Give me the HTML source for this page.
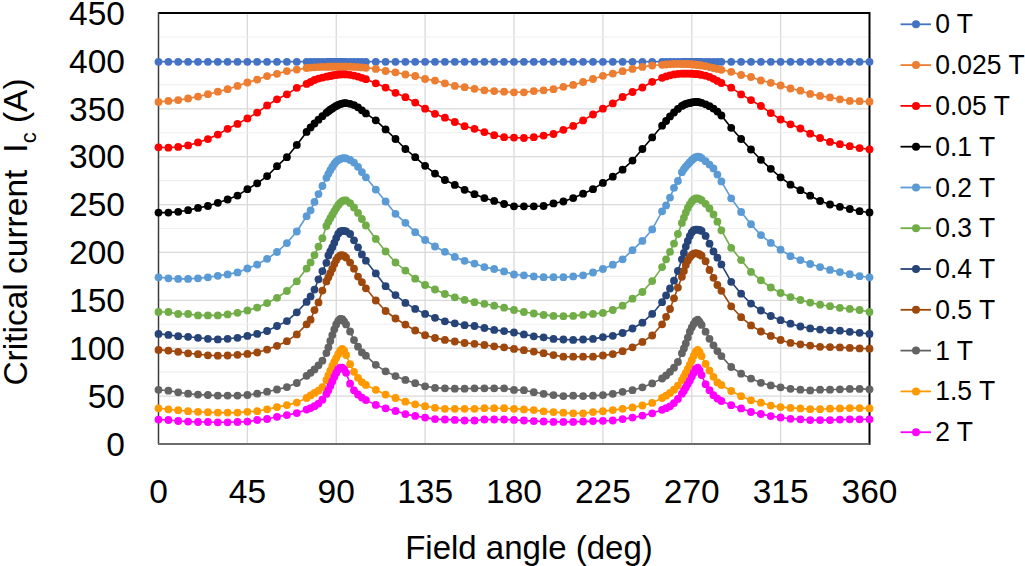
<!DOCTYPE html>
<html><head><meta charset="utf-8"><style>
html,body{margin:0;padding:0;background:#fff;width:1025px;height:566px;overflow:hidden}
svg{position:absolute;left:0;top:0;display:block}
text{font-family:"Liberation Sans",sans-serif;fill:#000}
</style></head><body>
<svg width="1025" height="566" viewBox="0 0 1025 566">
<rect x="0" y="0" width="1025" height="566" fill="#fff"/>
<line x1="247.38" y1="13.0" x2="247.38" y2="444.0" stroke="#d9d9d9" stroke-width="1.3"/>
<line x1="336.25" y1="13.0" x2="336.25" y2="444.0" stroke="#d9d9d9" stroke-width="1.3"/>
<line x1="425.12" y1="13.0" x2="425.12" y2="444.0" stroke="#d9d9d9" stroke-width="1.3"/>
<line x1="514.00" y1="13.0" x2="514.00" y2="444.0" stroke="#d9d9d9" stroke-width="1.3"/>
<line x1="602.88" y1="13.0" x2="602.88" y2="444.0" stroke="#d9d9d9" stroke-width="1.3"/>
<line x1="691.75" y1="13.0" x2="691.75" y2="444.0" stroke="#d9d9d9" stroke-width="1.3"/>
<line x1="780.62" y1="13.0" x2="780.62" y2="444.0" stroke="#d9d9d9" stroke-width="1.3"/>
<line x1="158.5" y1="420.06" x2="869.5" y2="420.06" stroke="#efefef" stroke-width="1.1"/>
<line x1="158.5" y1="396.11" x2="869.5" y2="396.11" stroke="#d9d9d9" stroke-width="1.3"/>
<line x1="158.5" y1="372.17" x2="869.5" y2="372.17" stroke="#efefef" stroke-width="1.1"/>
<line x1="158.5" y1="348.22" x2="869.5" y2="348.22" stroke="#d9d9d9" stroke-width="1.3"/>
<line x1="158.5" y1="324.28" x2="869.5" y2="324.28" stroke="#efefef" stroke-width="1.1"/>
<line x1="158.5" y1="300.33" x2="869.5" y2="300.33" stroke="#d9d9d9" stroke-width="1.3"/>
<line x1="158.5" y1="276.39" x2="869.5" y2="276.39" stroke="#efefef" stroke-width="1.1"/>
<line x1="158.5" y1="252.44" x2="869.5" y2="252.44" stroke="#d9d9d9" stroke-width="1.3"/>
<line x1="158.5" y1="228.50" x2="869.5" y2="228.50" stroke="#efefef" stroke-width="1.1"/>
<line x1="158.5" y1="204.56" x2="869.5" y2="204.56" stroke="#d9d9d9" stroke-width="1.3"/>
<line x1="158.5" y1="180.61" x2="869.5" y2="180.61" stroke="#efefef" stroke-width="1.1"/>
<line x1="158.5" y1="156.67" x2="869.5" y2="156.67" stroke="#d9d9d9" stroke-width="1.3"/>
<line x1="158.5" y1="132.72" x2="869.5" y2="132.72" stroke="#efefef" stroke-width="1.1"/>
<line x1="158.5" y1="108.78" x2="869.5" y2="108.78" stroke="#d9d9d9" stroke-width="1.3"/>
<line x1="158.5" y1="84.83" x2="869.5" y2="84.83" stroke="#efefef" stroke-width="1.1"/>
<line x1="158.5" y1="60.89" x2="869.5" y2="60.89" stroke="#d9d9d9" stroke-width="1.3"/>
<line x1="158.5" y1="36.94" x2="869.5" y2="36.94" stroke="#efefef" stroke-width="1.1"/>
<line x1="158.5" y1="13.0" x2="869.5" y2="13.0" stroke="#000" stroke-width="2"/>
<line x1="869.5" y1="12.0" x2="869.5" y2="445.0" stroke="#000" stroke-width="2"/>
<line x1="158.5" y1="12.0" x2="158.5" y2="444.0" stroke="#3c3c3c" stroke-width="1.5"/>
<line x1="158.0" y1="444.0" x2="869.5" y2="444.0" stroke="#6b6b6b" stroke-width="2"/>
<polyline points="158.5,61.8 168.4,61.8 178.2,61.8 188.1,61.8 198.0,61.8 207.9,61.8 217.8,61.8 227.6,61.8 237.5,61.8 247.4,61.8 257.2,61.8 267.1,61.8 277.0,61.8 286.9,61.8 296.8,61.8 306.6,61.8 310.6,61.8 314.5,61.8 318.5,61.8 322.4,61.8 326.4,61.8 328.4,61.8 330.3,61.8 332.3,61.8 334.3,61.8 336.2,61.8 338.2,61.8 340.2,61.8 342.2,61.8 344.1,61.8 346.1,61.8 350.1,61.8 354.0,61.8 358.0,61.8 361.9,61.8 365.9,61.8 375.8,61.8 385.6,61.8 395.5,61.8 405.4,61.8 415.2,61.8 425.1,61.8 435.0,61.8 444.9,61.8 454.8,61.8 464.6,61.8 474.5,61.8 484.4,61.8 494.2,61.8 504.1,61.8 514.0,61.8 523.9,61.8 533.8,61.8 543.6,61.8 553.5,61.8 563.4,61.8 573.2,61.8 583.1,61.8 593.0,61.8 602.9,61.8 612.8,61.8 622.6,61.8 632.5,61.8 642.4,61.8 652.2,61.8 662.1,61.8 666.1,61.8 670.0,61.8 674.0,61.8 677.9,61.8 681.9,61.8 683.9,61.8 685.8,61.8 687.8,61.8 689.8,61.8 691.8,61.8 693.7,61.8 695.7,61.8 697.7,61.8 699.6,61.8 701.6,61.8 705.6,61.8 709.5,61.8 713.5,61.8 717.4,61.8 721.4,61.8 731.2,61.8 741.1,61.8 751.0,61.8 760.9,61.8 770.8,61.8 780.6,61.8 790.5,61.8 800.4,61.8 810.2,61.8 820.1,61.8 830.0,61.8 839.9,61.8 849.8,61.8 859.6,61.8 869.5,61.8" fill="none" stroke="#4472C4" stroke-width="1.6" stroke-linejoin="round"/>
<g fill="#4472C4"><circle cx="158.5" cy="61.8" r="3.9"/><circle cx="168.4" cy="61.8" r="3.9"/><circle cx="178.2" cy="61.8" r="3.9"/><circle cx="188.1" cy="61.8" r="3.9"/><circle cx="198.0" cy="61.8" r="3.9"/><circle cx="207.9" cy="61.8" r="3.9"/><circle cx="217.8" cy="61.8" r="3.9"/><circle cx="227.6" cy="61.8" r="3.9"/><circle cx="237.5" cy="61.8" r="3.9"/><circle cx="247.4" cy="61.8" r="3.9"/><circle cx="257.2" cy="61.8" r="3.9"/><circle cx="267.1" cy="61.8" r="3.9"/><circle cx="277.0" cy="61.8" r="3.9"/><circle cx="286.9" cy="61.8" r="3.9"/><circle cx="296.8" cy="61.8" r="3.9"/><circle cx="306.6" cy="61.8" r="3.9"/><circle cx="310.6" cy="61.8" r="3.9"/><circle cx="314.5" cy="61.8" r="3.9"/><circle cx="318.5" cy="61.8" r="3.9"/><circle cx="322.4" cy="61.8" r="3.9"/><circle cx="326.4" cy="61.8" r="3.9"/><circle cx="328.4" cy="61.8" r="3.9"/><circle cx="330.3" cy="61.8" r="3.9"/><circle cx="332.3" cy="61.8" r="3.9"/><circle cx="334.3" cy="61.8" r="3.9"/><circle cx="336.2" cy="61.8" r="3.9"/><circle cx="338.2" cy="61.8" r="3.9"/><circle cx="340.2" cy="61.8" r="3.9"/><circle cx="342.2" cy="61.8" r="3.9"/><circle cx="344.1" cy="61.8" r="3.9"/><circle cx="346.1" cy="61.8" r="3.9"/><circle cx="350.1" cy="61.8" r="3.9"/><circle cx="354.0" cy="61.8" r="3.9"/><circle cx="358.0" cy="61.8" r="3.9"/><circle cx="361.9" cy="61.8" r="3.9"/><circle cx="365.9" cy="61.8" r="3.9"/><circle cx="375.8" cy="61.8" r="3.9"/><circle cx="385.6" cy="61.8" r="3.9"/><circle cx="395.5" cy="61.8" r="3.9"/><circle cx="405.4" cy="61.8" r="3.9"/><circle cx="415.2" cy="61.8" r="3.9"/><circle cx="425.1" cy="61.8" r="3.9"/><circle cx="435.0" cy="61.8" r="3.9"/><circle cx="444.9" cy="61.8" r="3.9"/><circle cx="454.8" cy="61.8" r="3.9"/><circle cx="464.6" cy="61.8" r="3.9"/><circle cx="474.5" cy="61.8" r="3.9"/><circle cx="484.4" cy="61.8" r="3.9"/><circle cx="494.2" cy="61.8" r="3.9"/><circle cx="504.1" cy="61.8" r="3.9"/><circle cx="514.0" cy="61.8" r="3.9"/><circle cx="523.9" cy="61.8" r="3.9"/><circle cx="533.8" cy="61.8" r="3.9"/><circle cx="543.6" cy="61.8" r="3.9"/><circle cx="553.5" cy="61.8" r="3.9"/><circle cx="563.4" cy="61.8" r="3.9"/><circle cx="573.2" cy="61.8" r="3.9"/><circle cx="583.1" cy="61.8" r="3.9"/><circle cx="593.0" cy="61.8" r="3.9"/><circle cx="602.9" cy="61.8" r="3.9"/><circle cx="612.8" cy="61.8" r="3.9"/><circle cx="622.6" cy="61.8" r="3.9"/><circle cx="632.5" cy="61.8" r="3.9"/><circle cx="642.4" cy="61.8" r="3.9"/><circle cx="652.2" cy="61.8" r="3.9"/><circle cx="662.1" cy="61.8" r="3.9"/><circle cx="666.1" cy="61.8" r="3.9"/><circle cx="670.0" cy="61.8" r="3.9"/><circle cx="674.0" cy="61.8" r="3.9"/><circle cx="677.9" cy="61.8" r="3.9"/><circle cx="681.9" cy="61.8" r="3.9"/><circle cx="683.9" cy="61.8" r="3.9"/><circle cx="685.8" cy="61.8" r="3.9"/><circle cx="687.8" cy="61.8" r="3.9"/><circle cx="689.8" cy="61.8" r="3.9"/><circle cx="691.8" cy="61.8" r="3.9"/><circle cx="693.7" cy="61.8" r="3.9"/><circle cx="695.7" cy="61.8" r="3.9"/><circle cx="697.7" cy="61.8" r="3.9"/><circle cx="699.6" cy="61.8" r="3.9"/><circle cx="701.6" cy="61.8" r="3.9"/><circle cx="705.6" cy="61.8" r="3.9"/><circle cx="709.5" cy="61.8" r="3.9"/><circle cx="713.5" cy="61.8" r="3.9"/><circle cx="717.4" cy="61.8" r="3.9"/><circle cx="721.4" cy="61.8" r="3.9"/><circle cx="731.2" cy="61.8" r="3.9"/><circle cx="741.1" cy="61.8" r="3.9"/><circle cx="751.0" cy="61.8" r="3.9"/><circle cx="760.9" cy="61.8" r="3.9"/><circle cx="770.8" cy="61.8" r="3.9"/><circle cx="780.6" cy="61.8" r="3.9"/><circle cx="790.5" cy="61.8" r="3.9"/><circle cx="800.4" cy="61.8" r="3.9"/><circle cx="810.2" cy="61.8" r="3.9"/><circle cx="820.1" cy="61.8" r="3.9"/><circle cx="830.0" cy="61.8" r="3.9"/><circle cx="839.9" cy="61.8" r="3.9"/><circle cx="849.8" cy="61.8" r="3.9"/><circle cx="859.6" cy="61.8" r="3.9"/><circle cx="869.5" cy="61.8" r="3.9"/></g>
<polyline points="158.5,102.0 168.4,100.9 178.2,100.1 188.1,98.5 198.0,96.6 207.9,94.2 217.8,91.7 227.6,89.2 237.5,85.9 247.4,82.5 257.2,79.6 267.1,76.1 277.0,73.8 286.9,71.1 296.8,69.6 306.6,68.0 310.6,67.6 314.5,67.3 318.5,67.1 322.4,66.9 326.4,66.8 328.4,66.7 330.3,66.7 332.3,66.6 334.3,66.6 336.2,66.6 338.2,66.6 340.2,66.6 342.2,66.6 344.1,66.6 346.1,66.6 350.1,66.7 354.0,66.9 358.0,67.1 361.9,67.4 365.9,67.8 375.8,68.9 385.6,71.0 395.5,72.3 405.4,74.5 415.2,76.0 425.1,79.0 435.0,80.6 444.9,83.3 454.8,85.9 464.6,87.2 474.5,88.8 484.4,90.3 494.2,91.1 504.1,91.7 514.0,92.3 523.9,92.3 533.8,91.1 543.6,90.3 553.5,89.2 563.4,86.8 573.2,84.9 583.1,82.0 593.0,79.0 602.9,75.8 612.8,73.6 622.6,71.2 632.5,68.9 642.4,66.9 652.2,65.5 662.1,64.8 666.1,64.5 670.0,64.2 674.0,64.0 677.9,63.9 681.9,63.9 683.9,63.9 685.8,64.0 687.8,64.1 689.8,64.2 691.8,64.3 693.7,64.5 695.7,64.7 697.7,64.9 699.6,65.2 701.6,65.5 705.6,66.2 709.5,67.1 713.5,68.0 717.4,68.9 721.4,69.8 731.2,71.8 741.1,75.0 751.0,77.0 760.9,80.5 770.8,82.8 780.6,85.5 790.5,88.5 800.4,90.7 810.2,93.9 820.1,95.9 830.0,97.4 839.9,99.3 849.8,100.9 859.6,101.2 869.5,101.7" fill="none" stroke="#ED7D31" stroke-width="1.6" stroke-linejoin="round"/>
<g fill="#ED7D31"><circle cx="158.5" cy="102.0" r="3.9"/><circle cx="168.4" cy="100.9" r="3.9"/><circle cx="178.2" cy="100.1" r="3.9"/><circle cx="188.1" cy="98.5" r="3.9"/><circle cx="198.0" cy="96.6" r="3.9"/><circle cx="207.9" cy="94.2" r="3.9"/><circle cx="217.8" cy="91.7" r="3.9"/><circle cx="227.6" cy="89.2" r="3.9"/><circle cx="237.5" cy="85.9" r="3.9"/><circle cx="247.4" cy="82.5" r="3.9"/><circle cx="257.2" cy="79.6" r="3.9"/><circle cx="267.1" cy="76.1" r="3.9"/><circle cx="277.0" cy="73.8" r="3.9"/><circle cx="286.9" cy="71.1" r="3.9"/><circle cx="296.8" cy="69.6" r="3.9"/><circle cx="306.6" cy="68.0" r="3.9"/><circle cx="310.6" cy="67.6" r="3.9"/><circle cx="314.5" cy="67.3" r="3.9"/><circle cx="318.5" cy="67.1" r="3.9"/><circle cx="322.4" cy="66.9" r="3.9"/><circle cx="326.4" cy="66.8" r="3.9"/><circle cx="328.4" cy="66.7" r="3.9"/><circle cx="330.3" cy="66.7" r="3.9"/><circle cx="332.3" cy="66.6" r="3.9"/><circle cx="334.3" cy="66.6" r="3.9"/><circle cx="336.2" cy="66.6" r="3.9"/><circle cx="338.2" cy="66.6" r="3.9"/><circle cx="340.2" cy="66.6" r="3.9"/><circle cx="342.2" cy="66.6" r="3.9"/><circle cx="344.1" cy="66.6" r="3.9"/><circle cx="346.1" cy="66.6" r="3.9"/><circle cx="350.1" cy="66.7" r="3.9"/><circle cx="354.0" cy="66.9" r="3.9"/><circle cx="358.0" cy="67.1" r="3.9"/><circle cx="361.9" cy="67.4" r="3.9"/><circle cx="365.9" cy="67.8" r="3.9"/><circle cx="375.8" cy="68.9" r="3.9"/><circle cx="385.6" cy="71.0" r="3.9"/><circle cx="395.5" cy="72.3" r="3.9"/><circle cx="405.4" cy="74.5" r="3.9"/><circle cx="415.2" cy="76.0" r="3.9"/><circle cx="425.1" cy="79.0" r="3.9"/><circle cx="435.0" cy="80.6" r="3.9"/><circle cx="444.9" cy="83.3" r="3.9"/><circle cx="454.8" cy="85.9" r="3.9"/><circle cx="464.6" cy="87.2" r="3.9"/><circle cx="474.5" cy="88.8" r="3.9"/><circle cx="484.4" cy="90.3" r="3.9"/><circle cx="494.2" cy="91.1" r="3.9"/><circle cx="504.1" cy="91.7" r="3.9"/><circle cx="514.0" cy="92.3" r="3.9"/><circle cx="523.9" cy="92.3" r="3.9"/><circle cx="533.8" cy="91.1" r="3.9"/><circle cx="543.6" cy="90.3" r="3.9"/><circle cx="553.5" cy="89.2" r="3.9"/><circle cx="563.4" cy="86.8" r="3.9"/><circle cx="573.2" cy="84.9" r="3.9"/><circle cx="583.1" cy="82.0" r="3.9"/><circle cx="593.0" cy="79.0" r="3.9"/><circle cx="602.9" cy="75.8" r="3.9"/><circle cx="612.8" cy="73.6" r="3.9"/><circle cx="622.6" cy="71.2" r="3.9"/><circle cx="632.5" cy="68.9" r="3.9"/><circle cx="642.4" cy="66.9" r="3.9"/><circle cx="652.2" cy="65.5" r="3.9"/><circle cx="662.1" cy="64.8" r="3.9"/><circle cx="666.1" cy="64.5" r="3.9"/><circle cx="670.0" cy="64.2" r="3.9"/><circle cx="674.0" cy="64.0" r="3.9"/><circle cx="677.9" cy="63.9" r="3.9"/><circle cx="681.9" cy="63.9" r="3.9"/><circle cx="683.9" cy="63.9" r="3.9"/><circle cx="685.8" cy="64.0" r="3.9"/><circle cx="687.8" cy="64.1" r="3.9"/><circle cx="689.8" cy="64.2" r="3.9"/><circle cx="691.8" cy="64.3" r="3.9"/><circle cx="693.7" cy="64.5" r="3.9"/><circle cx="695.7" cy="64.7" r="3.9"/><circle cx="697.7" cy="64.9" r="3.9"/><circle cx="699.6" cy="65.2" r="3.9"/><circle cx="701.6" cy="65.5" r="3.9"/><circle cx="705.6" cy="66.2" r="3.9"/><circle cx="709.5" cy="67.1" r="3.9"/><circle cx="713.5" cy="68.0" r="3.9"/><circle cx="717.4" cy="68.9" r="3.9"/><circle cx="721.4" cy="69.8" r="3.9"/><circle cx="731.2" cy="71.8" r="3.9"/><circle cx="741.1" cy="75.0" r="3.9"/><circle cx="751.0" cy="77.0" r="3.9"/><circle cx="760.9" cy="80.5" r="3.9"/><circle cx="770.8" cy="82.8" r="3.9"/><circle cx="780.6" cy="85.5" r="3.9"/><circle cx="790.5" cy="88.5" r="3.9"/><circle cx="800.4" cy="90.7" r="3.9"/><circle cx="810.2" cy="93.9" r="3.9"/><circle cx="820.1" cy="95.9" r="3.9"/><circle cx="830.0" cy="97.4" r="3.9"/><circle cx="839.9" cy="99.3" r="3.9"/><circle cx="849.8" cy="100.9" r="3.9"/><circle cx="859.6" cy="101.2" r="3.9"/><circle cx="869.5" cy="101.7" r="3.9"/></g>
<polyline points="158.5,147.3 168.4,147.7 178.2,146.9 188.1,145.4 198.0,142.4 207.9,139.1 217.8,134.6 227.6,128.8 237.5,123.9 247.4,118.4 257.2,112.6 267.1,105.4 277.0,99.3 286.9,94.3 296.8,87.8 306.6,83.9 310.6,82.0 314.5,80.0 318.5,78.6 322.4,77.6 326.4,76.7 328.4,76.3 330.3,75.9 332.3,75.5 334.3,75.1 336.2,74.8 338.2,74.5 340.2,74.4 342.2,74.3 344.1,74.3 346.1,74.4 350.1,74.8 354.0,75.6 358.0,76.6 361.9,77.8 365.9,79.2 375.8,83.3 385.6,87.6 395.5,92.8 405.4,97.2 415.2,102.6 425.1,108.7 435.0,113.8 444.9,117.7 454.8,122.0 464.6,126.2 474.5,128.8 484.4,132.1 494.2,135.2 504.1,137.2 514.0,137.6 523.9,138.0 533.8,137.2 543.6,135.6 553.5,134.0 563.4,129.8 573.2,125.9 583.1,120.4 593.0,114.5 602.9,108.7 612.8,103.4 622.6,97.0 632.5,92.0 642.4,87.5 652.2,81.8 662.1,77.8 666.1,76.4 670.0,75.3 674.0,74.4 677.9,73.9 681.9,73.7 683.9,73.6 685.8,73.6 687.8,73.6 689.8,73.6 691.8,73.7 693.7,73.8 695.7,74.0 697.7,74.2 699.6,74.5 701.6,74.8 705.6,75.7 709.5,76.9 713.5,78.8 717.4,80.9 721.4,83.0 731.2,87.7 741.1,94.4 751.0,100.1 760.9,106.0 770.8,113.1 780.6,119.5 790.5,124.3 800.4,128.5 810.2,133.7 820.1,138.0 830.0,141.9 839.9,144.2 849.8,146.2 859.6,148.1 869.5,149.3" fill="none" stroke="#FF0000" stroke-width="1.6" stroke-linejoin="round"/>
<g fill="#FF0000"><circle cx="158.5" cy="147.3" r="3.9"/><circle cx="168.4" cy="147.7" r="3.9"/><circle cx="178.2" cy="146.9" r="3.9"/><circle cx="188.1" cy="145.4" r="3.9"/><circle cx="198.0" cy="142.4" r="3.9"/><circle cx="207.9" cy="139.1" r="3.9"/><circle cx="217.8" cy="134.6" r="3.9"/><circle cx="227.6" cy="128.8" r="3.9"/><circle cx="237.5" cy="123.9" r="3.9"/><circle cx="247.4" cy="118.4" r="3.9"/><circle cx="257.2" cy="112.6" r="3.9"/><circle cx="267.1" cy="105.4" r="3.9"/><circle cx="277.0" cy="99.3" r="3.9"/><circle cx="286.9" cy="94.3" r="3.9"/><circle cx="296.8" cy="87.8" r="3.9"/><circle cx="306.6" cy="83.9" r="3.9"/><circle cx="310.6" cy="82.0" r="3.9"/><circle cx="314.5" cy="80.0" r="3.9"/><circle cx="318.5" cy="78.6" r="3.9"/><circle cx="322.4" cy="77.6" r="3.9"/><circle cx="326.4" cy="76.7" r="3.9"/><circle cx="328.4" cy="76.3" r="3.9"/><circle cx="330.3" cy="75.9" r="3.9"/><circle cx="332.3" cy="75.5" r="3.9"/><circle cx="334.3" cy="75.1" r="3.9"/><circle cx="336.2" cy="74.8" r="3.9"/><circle cx="338.2" cy="74.5" r="3.9"/><circle cx="340.2" cy="74.4" r="3.9"/><circle cx="342.2" cy="74.3" r="3.9"/><circle cx="344.1" cy="74.3" r="3.9"/><circle cx="346.1" cy="74.4" r="3.9"/><circle cx="350.1" cy="74.8" r="3.9"/><circle cx="354.0" cy="75.6" r="3.9"/><circle cx="358.0" cy="76.6" r="3.9"/><circle cx="361.9" cy="77.8" r="3.9"/><circle cx="365.9" cy="79.2" r="3.9"/><circle cx="375.8" cy="83.3" r="3.9"/><circle cx="385.6" cy="87.6" r="3.9"/><circle cx="395.5" cy="92.8" r="3.9"/><circle cx="405.4" cy="97.2" r="3.9"/><circle cx="415.2" cy="102.6" r="3.9"/><circle cx="425.1" cy="108.7" r="3.9"/><circle cx="435.0" cy="113.8" r="3.9"/><circle cx="444.9" cy="117.7" r="3.9"/><circle cx="454.8" cy="122.0" r="3.9"/><circle cx="464.6" cy="126.2" r="3.9"/><circle cx="474.5" cy="128.8" r="3.9"/><circle cx="484.4" cy="132.1" r="3.9"/><circle cx="494.2" cy="135.2" r="3.9"/><circle cx="504.1" cy="137.2" r="3.9"/><circle cx="514.0" cy="137.6" r="3.9"/><circle cx="523.9" cy="138.0" r="3.9"/><circle cx="533.8" cy="137.2" r="3.9"/><circle cx="543.6" cy="135.6" r="3.9"/><circle cx="553.5" cy="134.0" r="3.9"/><circle cx="563.4" cy="129.8" r="3.9"/><circle cx="573.2" cy="125.9" r="3.9"/><circle cx="583.1" cy="120.4" r="3.9"/><circle cx="593.0" cy="114.5" r="3.9"/><circle cx="602.9" cy="108.7" r="3.9"/><circle cx="612.8" cy="103.4" r="3.9"/><circle cx="622.6" cy="97.0" r="3.9"/><circle cx="632.5" cy="92.0" r="3.9"/><circle cx="642.4" cy="87.5" r="3.9"/><circle cx="652.2" cy="81.8" r="3.9"/><circle cx="662.1" cy="77.8" r="3.9"/><circle cx="666.1" cy="76.4" r="3.9"/><circle cx="670.0" cy="75.3" r="3.9"/><circle cx="674.0" cy="74.4" r="3.9"/><circle cx="677.9" cy="73.9" r="3.9"/><circle cx="681.9" cy="73.7" r="3.9"/><circle cx="683.9" cy="73.6" r="3.9"/><circle cx="685.8" cy="73.6" r="3.9"/><circle cx="687.8" cy="73.6" r="3.9"/><circle cx="689.8" cy="73.6" r="3.9"/><circle cx="691.8" cy="73.7" r="3.9"/><circle cx="693.7" cy="73.8" r="3.9"/><circle cx="695.7" cy="74.0" r="3.9"/><circle cx="697.7" cy="74.2" r="3.9"/><circle cx="699.6" cy="74.5" r="3.9"/><circle cx="701.6" cy="74.8" r="3.9"/><circle cx="705.6" cy="75.7" r="3.9"/><circle cx="709.5" cy="76.9" r="3.9"/><circle cx="713.5" cy="78.8" r="3.9"/><circle cx="717.4" cy="80.9" r="3.9"/><circle cx="721.4" cy="83.0" r="3.9"/><circle cx="731.2" cy="87.7" r="3.9"/><circle cx="741.1" cy="94.4" r="3.9"/><circle cx="751.0" cy="100.1" r="3.9"/><circle cx="760.9" cy="106.0" r="3.9"/><circle cx="770.8" cy="113.1" r="3.9"/><circle cx="780.6" cy="119.5" r="3.9"/><circle cx="790.5" cy="124.3" r="3.9"/><circle cx="800.4" cy="128.5" r="3.9"/><circle cx="810.2" cy="133.7" r="3.9"/><circle cx="820.1" cy="138.0" r="3.9"/><circle cx="830.0" cy="141.9" r="3.9"/><circle cx="839.9" cy="144.2" r="3.9"/><circle cx="849.8" cy="146.2" r="3.9"/><circle cx="859.6" cy="148.1" r="3.9"/><circle cx="869.5" cy="149.3" r="3.9"/></g>
<polyline points="158.5,212.6 168.4,212.6 178.2,211.8 188.1,210.2 198.0,207.9 207.9,206.0 217.8,202.8 227.6,199.5 237.5,195.6 247.4,189.2 257.2,183.3 267.1,176.1 277.0,166.2 286.9,157.2 296.8,144.9 306.6,131.9 310.6,127.4 314.5,123.5 318.5,119.7 322.4,116.2 326.4,112.8 328.4,111.2 330.3,109.7 332.3,108.4 334.3,107.1 336.2,105.9 338.2,104.9 340.2,104.1 342.2,103.6 344.1,103.2 346.1,103.1 350.1,103.8 354.0,105.1 358.0,107.3 361.9,110.3 365.9,113.4 375.8,120.3 385.6,129.4 395.5,139.0 405.4,149.0 415.2,157.2 425.1,165.8 435.0,173.6 444.9,180.0 454.8,184.9 464.6,189.8 474.5,194.2 484.4,198.1 494.2,200.9 504.1,204.0 514.0,206.3 523.9,206.3 533.8,206.3 543.6,206.0 553.5,203.4 563.4,201.5 573.2,198.1 583.1,193.7 593.0,189.2 602.9,182.9 612.8,176.7 622.6,169.7 632.5,160.6 642.4,149.0 652.2,137.4 662.1,125.7 666.1,121.0 670.0,116.4 674.0,112.5 677.9,108.9 681.9,105.9 683.9,104.8 685.8,103.9 687.8,103.3 689.8,102.9 691.8,102.5 693.7,102.2 695.7,102.0 697.7,102.0 699.6,102.3 701.6,102.8 705.6,104.3 709.5,106.2 713.5,108.6 717.4,111.6 721.4,115.5 731.2,127.8 741.1,139.0 751.0,149.5 760.9,159.8 770.8,168.8 780.6,177.3 790.5,184.7 800.4,190.2 810.2,195.7 820.1,201.0 830.0,204.5 839.9,206.8 849.8,209.0 859.6,211.2 869.5,212.5" fill="none" stroke="#000000" stroke-width="1.6" stroke-linejoin="round"/>
<g fill="#000000"><circle cx="158.5" cy="212.6" r="3.9"/><circle cx="168.4" cy="212.6" r="3.9"/><circle cx="178.2" cy="211.8" r="3.9"/><circle cx="188.1" cy="210.2" r="3.9"/><circle cx="198.0" cy="207.9" r="3.9"/><circle cx="207.9" cy="206.0" r="3.9"/><circle cx="217.8" cy="202.8" r="3.9"/><circle cx="227.6" cy="199.5" r="3.9"/><circle cx="237.5" cy="195.6" r="3.9"/><circle cx="247.4" cy="189.2" r="3.9"/><circle cx="257.2" cy="183.3" r="3.9"/><circle cx="267.1" cy="176.1" r="3.9"/><circle cx="277.0" cy="166.2" r="3.9"/><circle cx="286.9" cy="157.2" r="3.9"/><circle cx="296.8" cy="144.9" r="3.9"/><circle cx="306.6" cy="131.9" r="3.9"/><circle cx="310.6" cy="127.4" r="3.9"/><circle cx="314.5" cy="123.5" r="3.9"/><circle cx="318.5" cy="119.7" r="3.9"/><circle cx="322.4" cy="116.2" r="3.9"/><circle cx="326.4" cy="112.8" r="3.9"/><circle cx="328.4" cy="111.2" r="3.9"/><circle cx="330.3" cy="109.7" r="3.9"/><circle cx="332.3" cy="108.4" r="3.9"/><circle cx="334.3" cy="107.1" r="3.9"/><circle cx="336.2" cy="105.9" r="3.9"/><circle cx="338.2" cy="104.9" r="3.9"/><circle cx="340.2" cy="104.1" r="3.9"/><circle cx="342.2" cy="103.6" r="3.9"/><circle cx="344.1" cy="103.2" r="3.9"/><circle cx="346.1" cy="103.1" r="3.9"/><circle cx="350.1" cy="103.8" r="3.9"/><circle cx="354.0" cy="105.1" r="3.9"/><circle cx="358.0" cy="107.3" r="3.9"/><circle cx="361.9" cy="110.3" r="3.9"/><circle cx="365.9" cy="113.4" r="3.9"/><circle cx="375.8" cy="120.3" r="3.9"/><circle cx="385.6" cy="129.4" r="3.9"/><circle cx="395.5" cy="139.0" r="3.9"/><circle cx="405.4" cy="149.0" r="3.9"/><circle cx="415.2" cy="157.2" r="3.9"/><circle cx="425.1" cy="165.8" r="3.9"/><circle cx="435.0" cy="173.6" r="3.9"/><circle cx="444.9" cy="180.0" r="3.9"/><circle cx="454.8" cy="184.9" r="3.9"/><circle cx="464.6" cy="189.8" r="3.9"/><circle cx="474.5" cy="194.2" r="3.9"/><circle cx="484.4" cy="198.1" r="3.9"/><circle cx="494.2" cy="200.9" r="3.9"/><circle cx="504.1" cy="204.0" r="3.9"/><circle cx="514.0" cy="206.3" r="3.9"/><circle cx="523.9" cy="206.3" r="3.9"/><circle cx="533.8" cy="206.3" r="3.9"/><circle cx="543.6" cy="206.0" r="3.9"/><circle cx="553.5" cy="203.4" r="3.9"/><circle cx="563.4" cy="201.5" r="3.9"/><circle cx="573.2" cy="198.1" r="3.9"/><circle cx="583.1" cy="193.7" r="3.9"/><circle cx="593.0" cy="189.2" r="3.9"/><circle cx="602.9" cy="182.9" r="3.9"/><circle cx="612.8" cy="176.7" r="3.9"/><circle cx="622.6" cy="169.7" r="3.9"/><circle cx="632.5" cy="160.6" r="3.9"/><circle cx="642.4" cy="149.0" r="3.9"/><circle cx="652.2" cy="137.4" r="3.9"/><circle cx="662.1" cy="125.7" r="3.9"/><circle cx="666.1" cy="121.0" r="3.9"/><circle cx="670.0" cy="116.4" r="3.9"/><circle cx="674.0" cy="112.5" r="3.9"/><circle cx="677.9" cy="108.9" r="3.9"/><circle cx="681.9" cy="105.9" r="3.9"/><circle cx="683.9" cy="104.8" r="3.9"/><circle cx="685.8" cy="103.9" r="3.9"/><circle cx="687.8" cy="103.3" r="3.9"/><circle cx="689.8" cy="102.9" r="3.9"/><circle cx="691.8" cy="102.5" r="3.9"/><circle cx="693.7" cy="102.2" r="3.9"/><circle cx="695.7" cy="102.0" r="3.9"/><circle cx="697.7" cy="102.0" r="3.9"/><circle cx="699.6" cy="102.3" r="3.9"/><circle cx="701.6" cy="102.8" r="3.9"/><circle cx="705.6" cy="104.3" r="3.9"/><circle cx="709.5" cy="106.2" r="3.9"/><circle cx="713.5" cy="108.6" r="3.9"/><circle cx="717.4" cy="111.6" r="3.9"/><circle cx="721.4" cy="115.5" r="3.9"/><circle cx="731.2" cy="127.8" r="3.9"/><circle cx="741.1" cy="139.0" r="3.9"/><circle cx="751.0" cy="149.5" r="3.9"/><circle cx="760.9" cy="159.8" r="3.9"/><circle cx="770.8" cy="168.8" r="3.9"/><circle cx="780.6" cy="177.3" r="3.9"/><circle cx="790.5" cy="184.7" r="3.9"/><circle cx="800.4" cy="190.2" r="3.9"/><circle cx="810.2" cy="195.7" r="3.9"/><circle cx="820.1" cy="201.0" r="3.9"/><circle cx="830.0" cy="204.5" r="3.9"/><circle cx="839.9" cy="206.8" r="3.9"/><circle cx="849.8" cy="209.0" r="3.9"/><circle cx="859.6" cy="211.2" r="3.9"/><circle cx="869.5" cy="212.5" r="3.9"/></g>
<polyline points="158.5,277.3 168.4,278.3 178.2,278.9 188.1,278.9 198.0,278.3 207.9,277.3 217.8,275.8 227.6,274.4 237.5,272.4 247.4,268.5 257.2,264.6 267.1,258.8 277.0,252.0 286.9,243.1 296.8,231.5 306.6,216.2 310.6,210.3 314.5,201.9 318.5,194.1 322.4,186.0 326.4,177.8 328.4,173.8 330.3,170.2 332.3,166.9 334.3,164.0 336.2,161.6 338.2,159.9 340.2,158.9 342.2,158.3 344.1,158.2 346.1,158.4 350.1,160.0 354.0,162.6 358.0,166.8 361.9,172.1 365.9,177.3 375.8,189.6 385.6,201.5 395.5,213.8 405.4,222.8 415.2,232.2 425.1,240.0 435.0,246.5 444.9,251.8 454.8,256.9 464.6,260.8 474.5,263.6 484.4,267.1 494.2,269.0 504.1,271.4 514.0,274.5 523.9,275.3 533.8,276.4 543.6,277.2 553.5,277.2 563.4,277.2 573.2,276.4 583.1,275.3 593.0,272.5 602.9,269.0 612.8,264.7 622.6,259.3 632.5,250.2 642.4,240.9 652.2,229.4 662.1,211.3 666.1,205.4 670.0,197.6 674.0,187.8 677.9,181.0 681.9,172.2 683.9,169.1 685.8,166.6 687.8,164.3 689.8,162.2 691.8,160.2 693.7,158.5 695.7,157.1 697.7,156.6 699.6,157.0 701.6,158.1 705.6,161.2 709.5,164.6 713.5,168.5 717.4,174.6 721.4,181.4 731.2,198.3 741.1,212.0 751.0,224.2 760.9,235.1 770.8,242.9 780.6,249.7 790.5,256.2 800.4,260.1 810.2,264.0 820.1,267.1 830.0,269.9 839.9,272.1 849.8,274.2 859.6,276.2 869.5,277.3" fill="none" stroke="#5B9BD5" stroke-width="1.6" stroke-linejoin="round"/>
<g fill="#5B9BD5"><circle cx="158.5" cy="277.3" r="3.9"/><circle cx="168.4" cy="278.3" r="3.9"/><circle cx="178.2" cy="278.9" r="3.9"/><circle cx="188.1" cy="278.9" r="3.9"/><circle cx="198.0" cy="278.3" r="3.9"/><circle cx="207.9" cy="277.3" r="3.9"/><circle cx="217.8" cy="275.8" r="3.9"/><circle cx="227.6" cy="274.4" r="3.9"/><circle cx="237.5" cy="272.4" r="3.9"/><circle cx="247.4" cy="268.5" r="3.9"/><circle cx="257.2" cy="264.6" r="3.9"/><circle cx="267.1" cy="258.8" r="3.9"/><circle cx="277.0" cy="252.0" r="3.9"/><circle cx="286.9" cy="243.1" r="3.9"/><circle cx="296.8" cy="231.5" r="3.9"/><circle cx="306.6" cy="216.2" r="3.9"/><circle cx="310.6" cy="210.3" r="3.9"/><circle cx="314.5" cy="201.9" r="3.9"/><circle cx="318.5" cy="194.1" r="3.9"/><circle cx="322.4" cy="186.0" r="3.9"/><circle cx="326.4" cy="177.8" r="3.9"/><circle cx="328.4" cy="173.8" r="3.9"/><circle cx="330.3" cy="170.2" r="3.9"/><circle cx="332.3" cy="166.9" r="3.9"/><circle cx="334.3" cy="164.0" r="3.9"/><circle cx="336.2" cy="161.6" r="3.9"/><circle cx="338.2" cy="159.9" r="3.9"/><circle cx="340.2" cy="158.9" r="3.9"/><circle cx="342.2" cy="158.3" r="3.9"/><circle cx="344.1" cy="158.2" r="3.9"/><circle cx="346.1" cy="158.4" r="3.9"/><circle cx="350.1" cy="160.0" r="3.9"/><circle cx="354.0" cy="162.6" r="3.9"/><circle cx="358.0" cy="166.8" r="3.9"/><circle cx="361.9" cy="172.1" r="3.9"/><circle cx="365.9" cy="177.3" r="3.9"/><circle cx="375.8" cy="189.6" r="3.9"/><circle cx="385.6" cy="201.5" r="3.9"/><circle cx="395.5" cy="213.8" r="3.9"/><circle cx="405.4" cy="222.8" r="3.9"/><circle cx="415.2" cy="232.2" r="3.9"/><circle cx="425.1" cy="240.0" r="3.9"/><circle cx="435.0" cy="246.5" r="3.9"/><circle cx="444.9" cy="251.8" r="3.9"/><circle cx="454.8" cy="256.9" r="3.9"/><circle cx="464.6" cy="260.8" r="3.9"/><circle cx="474.5" cy="263.6" r="3.9"/><circle cx="484.4" cy="267.1" r="3.9"/><circle cx="494.2" cy="269.0" r="3.9"/><circle cx="504.1" cy="271.4" r="3.9"/><circle cx="514.0" cy="274.5" r="3.9"/><circle cx="523.9" cy="275.3" r="3.9"/><circle cx="533.8" cy="276.4" r="3.9"/><circle cx="543.6" cy="277.2" r="3.9"/><circle cx="553.5" cy="277.2" r="3.9"/><circle cx="563.4" cy="277.2" r="3.9"/><circle cx="573.2" cy="276.4" r="3.9"/><circle cx="583.1" cy="275.3" r="3.9"/><circle cx="593.0" cy="272.5" r="3.9"/><circle cx="602.9" cy="269.0" r="3.9"/><circle cx="612.8" cy="264.7" r="3.9"/><circle cx="622.6" cy="259.3" r="3.9"/><circle cx="632.5" cy="250.2" r="3.9"/><circle cx="642.4" cy="240.9" r="3.9"/><circle cx="652.2" cy="229.4" r="3.9"/><circle cx="662.1" cy="211.3" r="3.9"/><circle cx="666.1" cy="205.4" r="3.9"/><circle cx="670.0" cy="197.6" r="3.9"/><circle cx="674.0" cy="187.8" r="3.9"/><circle cx="677.9" cy="181.0" r="3.9"/><circle cx="681.9" cy="172.2" r="3.9"/><circle cx="683.9" cy="169.1" r="3.9"/><circle cx="685.8" cy="166.6" r="3.9"/><circle cx="687.8" cy="164.3" r="3.9"/><circle cx="689.8" cy="162.2" r="3.9"/><circle cx="691.8" cy="160.2" r="3.9"/><circle cx="693.7" cy="158.5" r="3.9"/><circle cx="695.7" cy="157.1" r="3.9"/><circle cx="697.7" cy="156.6" r="3.9"/><circle cx="699.6" cy="157.0" r="3.9"/><circle cx="701.6" cy="158.1" r="3.9"/><circle cx="705.6" cy="161.2" r="3.9"/><circle cx="709.5" cy="164.6" r="3.9"/><circle cx="713.5" cy="168.5" r="3.9"/><circle cx="717.4" cy="174.6" r="3.9"/><circle cx="721.4" cy="181.4" r="3.9"/><circle cx="731.2" cy="198.3" r="3.9"/><circle cx="741.1" cy="212.0" r="3.9"/><circle cx="751.0" cy="224.2" r="3.9"/><circle cx="760.9" cy="235.1" r="3.9"/><circle cx="770.8" cy="242.9" r="3.9"/><circle cx="780.6" cy="249.7" r="3.9"/><circle cx="790.5" cy="256.2" r="3.9"/><circle cx="800.4" cy="260.1" r="3.9"/><circle cx="810.2" cy="264.0" r="3.9"/><circle cx="820.1" cy="267.1" r="3.9"/><circle cx="830.0" cy="269.9" r="3.9"/><circle cx="839.9" cy="272.1" r="3.9"/><circle cx="849.8" cy="274.2" r="3.9"/><circle cx="859.6" cy="276.2" r="3.9"/><circle cx="869.5" cy="277.3" r="3.9"/></g>
<polyline points="158.5,312.0 168.4,312.0 178.2,314.0 188.1,314.0 198.0,315.4 207.9,315.4 217.8,315.4 227.6,314.4 237.5,312.8 247.4,310.5 257.2,307.6 267.1,303.1 277.0,297.8 286.9,291.0 296.8,281.3 306.6,268.6 310.6,262.4 314.5,255.1 318.5,246.6 322.4,238.2 326.4,226.0 328.4,221.8 330.3,218.2 332.3,214.7 334.3,211.3 336.2,208.1 338.2,205.2 340.2,202.8 342.2,201.1 344.1,200.3 346.1,200.4 350.1,203.1 354.0,207.5 358.0,212.9 361.9,219.0 365.9,225.5 375.8,238.9 385.6,251.5 395.5,262.5 405.4,270.6 415.2,278.7 425.1,285.0 435.0,289.5 444.9,294.0 454.8,297.3 464.6,299.9 474.5,302.2 484.4,303.8 494.2,305.7 504.1,307.7 514.0,310.0 523.9,312.0 533.8,313.5 543.6,314.9 553.5,315.9 563.4,316.2 573.2,315.9 583.1,314.9 593.0,313.9 602.9,312.9 612.8,310.0 622.6,305.7 632.5,298.7 642.4,292.0 652.2,281.1 662.1,267.1 666.1,259.3 670.0,251.9 674.0,243.6 677.9,234.0 681.9,222.9 683.9,217.6 685.8,212.6 687.8,207.9 689.8,204.3 691.8,201.4 693.7,199.4 695.7,198.3 697.7,198.4 699.6,199.1 701.6,200.2 705.6,203.8 709.5,208.5 713.5,214.5 717.4,221.7 721.4,230.3 731.2,247.8 741.1,260.1 751.0,271.9 760.9,280.3 770.8,287.5 780.6,293.0 790.5,297.1 800.4,300.0 810.2,302.6 820.1,304.7 830.0,306.2 839.9,307.8 849.8,308.9 859.6,310.0 869.5,312.0" fill="none" stroke="#70AD47" stroke-width="1.6" stroke-linejoin="round"/>
<g fill="#70AD47"><circle cx="158.5" cy="312.0" r="3.9"/><circle cx="168.4" cy="312.0" r="3.9"/><circle cx="178.2" cy="314.0" r="3.9"/><circle cx="188.1" cy="314.0" r="3.9"/><circle cx="198.0" cy="315.4" r="3.9"/><circle cx="207.9" cy="315.4" r="3.9"/><circle cx="217.8" cy="315.4" r="3.9"/><circle cx="227.6" cy="314.4" r="3.9"/><circle cx="237.5" cy="312.8" r="3.9"/><circle cx="247.4" cy="310.5" r="3.9"/><circle cx="257.2" cy="307.6" r="3.9"/><circle cx="267.1" cy="303.1" r="3.9"/><circle cx="277.0" cy="297.8" r="3.9"/><circle cx="286.9" cy="291.0" r="3.9"/><circle cx="296.8" cy="281.3" r="3.9"/><circle cx="306.6" cy="268.6" r="3.9"/><circle cx="310.6" cy="262.4" r="3.9"/><circle cx="314.5" cy="255.1" r="3.9"/><circle cx="318.5" cy="246.6" r="3.9"/><circle cx="322.4" cy="238.2" r="3.9"/><circle cx="326.4" cy="226.0" r="3.9"/><circle cx="328.4" cy="221.8" r="3.9"/><circle cx="330.3" cy="218.2" r="3.9"/><circle cx="332.3" cy="214.7" r="3.9"/><circle cx="334.3" cy="211.3" r="3.9"/><circle cx="336.2" cy="208.1" r="3.9"/><circle cx="338.2" cy="205.2" r="3.9"/><circle cx="340.2" cy="202.8" r="3.9"/><circle cx="342.2" cy="201.1" r="3.9"/><circle cx="344.1" cy="200.3" r="3.9"/><circle cx="346.1" cy="200.4" r="3.9"/><circle cx="350.1" cy="203.1" r="3.9"/><circle cx="354.0" cy="207.5" r="3.9"/><circle cx="358.0" cy="212.9" r="3.9"/><circle cx="361.9" cy="219.0" r="3.9"/><circle cx="365.9" cy="225.5" r="3.9"/><circle cx="375.8" cy="238.9" r="3.9"/><circle cx="385.6" cy="251.5" r="3.9"/><circle cx="395.5" cy="262.5" r="3.9"/><circle cx="405.4" cy="270.6" r="3.9"/><circle cx="415.2" cy="278.7" r="3.9"/><circle cx="425.1" cy="285.0" r="3.9"/><circle cx="435.0" cy="289.5" r="3.9"/><circle cx="444.9" cy="294.0" r="3.9"/><circle cx="454.8" cy="297.3" r="3.9"/><circle cx="464.6" cy="299.9" r="3.9"/><circle cx="474.5" cy="302.2" r="3.9"/><circle cx="484.4" cy="303.8" r="3.9"/><circle cx="494.2" cy="305.7" r="3.9"/><circle cx="504.1" cy="307.7" r="3.9"/><circle cx="514.0" cy="310.0" r="3.9"/><circle cx="523.9" cy="312.0" r="3.9"/><circle cx="533.8" cy="313.5" r="3.9"/><circle cx="543.6" cy="314.9" r="3.9"/><circle cx="553.5" cy="315.9" r="3.9"/><circle cx="563.4" cy="316.2" r="3.9"/><circle cx="573.2" cy="315.9" r="3.9"/><circle cx="583.1" cy="314.9" r="3.9"/><circle cx="593.0" cy="313.9" r="3.9"/><circle cx="602.9" cy="312.9" r="3.9"/><circle cx="612.8" cy="310.0" r="3.9"/><circle cx="622.6" cy="305.7" r="3.9"/><circle cx="632.5" cy="298.7" r="3.9"/><circle cx="642.4" cy="292.0" r="3.9"/><circle cx="652.2" cy="281.1" r="3.9"/><circle cx="662.1" cy="267.1" r="3.9"/><circle cx="666.1" cy="259.3" r="3.9"/><circle cx="670.0" cy="251.9" r="3.9"/><circle cx="674.0" cy="243.6" r="3.9"/><circle cx="677.9" cy="234.0" r="3.9"/><circle cx="681.9" cy="222.9" r="3.9"/><circle cx="683.9" cy="217.6" r="3.9"/><circle cx="685.8" cy="212.6" r="3.9"/><circle cx="687.8" cy="207.9" r="3.9"/><circle cx="689.8" cy="204.3" r="3.9"/><circle cx="691.8" cy="201.4" r="3.9"/><circle cx="693.7" cy="199.4" r="3.9"/><circle cx="695.7" cy="198.3" r="3.9"/><circle cx="697.7" cy="198.4" r="3.9"/><circle cx="699.6" cy="199.1" r="3.9"/><circle cx="701.6" cy="200.2" r="3.9"/><circle cx="705.6" cy="203.8" r="3.9"/><circle cx="709.5" cy="208.5" r="3.9"/><circle cx="713.5" cy="214.5" r="3.9"/><circle cx="717.4" cy="221.7" r="3.9"/><circle cx="721.4" cy="230.3" r="3.9"/><circle cx="731.2" cy="247.8" r="3.9"/><circle cx="741.1" cy="260.1" r="3.9"/><circle cx="751.0" cy="271.9" r="3.9"/><circle cx="760.9" cy="280.3" r="3.9"/><circle cx="770.8" cy="287.5" r="3.9"/><circle cx="780.6" cy="293.0" r="3.9"/><circle cx="790.5" cy="297.1" r="3.9"/><circle cx="800.4" cy="300.0" r="3.9"/><circle cx="810.2" cy="302.6" r="3.9"/><circle cx="820.1" cy="304.7" r="3.9"/><circle cx="830.0" cy="306.2" r="3.9"/><circle cx="839.9" cy="307.8" r="3.9"/><circle cx="849.8" cy="308.9" r="3.9"/><circle cx="859.6" cy="310.0" r="3.9"/><circle cx="869.5" cy="312.0" r="3.9"/></g>
<polyline points="158.5,333.9 168.4,334.9 178.2,336.2 188.1,336.8 198.0,337.8 207.9,338.8 217.8,339.4 227.6,338.8 237.5,337.8 247.4,335.9 257.2,333.9 267.1,331.0 277.0,326.0 286.9,321.1 296.8,312.3 306.6,301.9 310.6,296.4 314.5,289.6 318.5,279.3 322.4,271.1 326.4,262.8 328.4,255.5 330.3,251.3 332.3,247.3 334.3,242.8 336.2,238.1 338.2,233.8 340.2,231.4 342.2,230.8 344.1,230.9 346.1,231.3 350.1,234.0 354.0,240.3 358.0,247.3 361.9,254.4 365.9,260.7 375.8,273.4 385.6,286.2 395.5,295.1 405.4,302.9 415.2,308.9 425.1,313.9 435.0,317.8 444.9,321.3 454.8,323.3 464.6,325.2 474.5,326.0 484.4,328.0 494.2,329.9 504.1,331.1 514.0,332.5 523.9,334.4 533.8,336.3 543.6,337.3 553.5,338.9 563.4,339.5 573.2,339.9 583.1,339.5 593.0,338.9 602.9,337.1 612.8,335.8 622.6,333.0 632.5,328.5 642.4,322.7 652.2,313.9 662.1,302.2 666.1,295.4 670.0,288.5 674.0,280.7 677.9,271.0 681.9,259.3 683.9,253.0 685.8,246.6 687.8,240.9 689.8,236.1 691.8,232.3 693.7,230.2 695.7,229.6 697.7,229.7 699.6,230.0 701.6,230.9 705.6,235.9 709.5,243.7 713.5,251.5 717.4,257.7 721.4,264.4 731.2,281.8 741.1,293.7 751.0,303.6 760.9,310.5 770.8,316.0 780.6,320.2 790.5,323.7 800.4,326.5 810.2,328.4 820.1,329.6 830.0,330.3 839.9,330.7 849.8,331.8 859.6,332.8 869.5,333.9" fill="none" stroke="#264478" stroke-width="1.6" stroke-linejoin="round"/>
<g fill="#264478"><circle cx="158.5" cy="333.9" r="3.9"/><circle cx="168.4" cy="334.9" r="3.9"/><circle cx="178.2" cy="336.2" r="3.9"/><circle cx="188.1" cy="336.8" r="3.9"/><circle cx="198.0" cy="337.8" r="3.9"/><circle cx="207.9" cy="338.8" r="3.9"/><circle cx="217.8" cy="339.4" r="3.9"/><circle cx="227.6" cy="338.8" r="3.9"/><circle cx="237.5" cy="337.8" r="3.9"/><circle cx="247.4" cy="335.9" r="3.9"/><circle cx="257.2" cy="333.9" r="3.9"/><circle cx="267.1" cy="331.0" r="3.9"/><circle cx="277.0" cy="326.0" r="3.9"/><circle cx="286.9" cy="321.1" r="3.9"/><circle cx="296.8" cy="312.3" r="3.9"/><circle cx="306.6" cy="301.9" r="3.9"/><circle cx="310.6" cy="296.4" r="3.9"/><circle cx="314.5" cy="289.6" r="3.9"/><circle cx="318.5" cy="279.3" r="3.9"/><circle cx="322.4" cy="271.1" r="3.9"/><circle cx="326.4" cy="262.8" r="3.9"/><circle cx="328.4" cy="255.5" r="3.9"/><circle cx="330.3" cy="251.3" r="3.9"/><circle cx="332.3" cy="247.3" r="3.9"/><circle cx="334.3" cy="242.8" r="3.9"/><circle cx="336.2" cy="238.1" r="3.9"/><circle cx="338.2" cy="233.8" r="3.9"/><circle cx="340.2" cy="231.4" r="3.9"/><circle cx="342.2" cy="230.8" r="3.9"/><circle cx="344.1" cy="230.9" r="3.9"/><circle cx="346.1" cy="231.3" r="3.9"/><circle cx="350.1" cy="234.0" r="3.9"/><circle cx="354.0" cy="240.3" r="3.9"/><circle cx="358.0" cy="247.3" r="3.9"/><circle cx="361.9" cy="254.4" r="3.9"/><circle cx="365.9" cy="260.7" r="3.9"/><circle cx="375.8" cy="273.4" r="3.9"/><circle cx="385.6" cy="286.2" r="3.9"/><circle cx="395.5" cy="295.1" r="3.9"/><circle cx="405.4" cy="302.9" r="3.9"/><circle cx="415.2" cy="308.9" r="3.9"/><circle cx="425.1" cy="313.9" r="3.9"/><circle cx="435.0" cy="317.8" r="3.9"/><circle cx="444.9" cy="321.3" r="3.9"/><circle cx="454.8" cy="323.3" r="3.9"/><circle cx="464.6" cy="325.2" r="3.9"/><circle cx="474.5" cy="326.0" r="3.9"/><circle cx="484.4" cy="328.0" r="3.9"/><circle cx="494.2" cy="329.9" r="3.9"/><circle cx="504.1" cy="331.1" r="3.9"/><circle cx="514.0" cy="332.5" r="3.9"/><circle cx="523.9" cy="334.4" r="3.9"/><circle cx="533.8" cy="336.3" r="3.9"/><circle cx="543.6" cy="337.3" r="3.9"/><circle cx="553.5" cy="338.9" r="3.9"/><circle cx="563.4" cy="339.5" r="3.9"/><circle cx="573.2" cy="339.9" r="3.9"/><circle cx="583.1" cy="339.5" r="3.9"/><circle cx="593.0" cy="338.9" r="3.9"/><circle cx="602.9" cy="337.1" r="3.9"/><circle cx="612.8" cy="335.8" r="3.9"/><circle cx="622.6" cy="333.0" r="3.9"/><circle cx="632.5" cy="328.5" r="3.9"/><circle cx="642.4" cy="322.7" r="3.9"/><circle cx="652.2" cy="313.9" r="3.9"/><circle cx="662.1" cy="302.2" r="3.9"/><circle cx="666.1" cy="295.4" r="3.9"/><circle cx="670.0" cy="288.5" r="3.9"/><circle cx="674.0" cy="280.7" r="3.9"/><circle cx="677.9" cy="271.0" r="3.9"/><circle cx="681.9" cy="259.3" r="3.9"/><circle cx="683.9" cy="253.0" r="3.9"/><circle cx="685.8" cy="246.6" r="3.9"/><circle cx="687.8" cy="240.9" r="3.9"/><circle cx="689.8" cy="236.1" r="3.9"/><circle cx="691.8" cy="232.3" r="3.9"/><circle cx="693.7" cy="230.2" r="3.9"/><circle cx="695.7" cy="229.6" r="3.9"/><circle cx="697.7" cy="229.7" r="3.9"/><circle cx="699.6" cy="230.0" r="3.9"/><circle cx="701.6" cy="230.9" r="3.9"/><circle cx="705.6" cy="235.9" r="3.9"/><circle cx="709.5" cy="243.7" r="3.9"/><circle cx="713.5" cy="251.5" r="3.9"/><circle cx="717.4" cy="257.7" r="3.9"/><circle cx="721.4" cy="264.4" r="3.9"/><circle cx="731.2" cy="281.8" r="3.9"/><circle cx="741.1" cy="293.7" r="3.9"/><circle cx="751.0" cy="303.6" r="3.9"/><circle cx="760.9" cy="310.5" r="3.9"/><circle cx="770.8" cy="316.0" r="3.9"/><circle cx="780.6" cy="320.2" r="3.9"/><circle cx="790.5" cy="323.7" r="3.9"/><circle cx="800.4" cy="326.5" r="3.9"/><circle cx="810.2" cy="328.4" r="3.9"/><circle cx="820.1" cy="329.6" r="3.9"/><circle cx="830.0" cy="330.3" r="3.9"/><circle cx="839.9" cy="330.7" r="3.9"/><circle cx="849.8" cy="331.8" r="3.9"/><circle cx="859.6" cy="332.8" r="3.9"/><circle cx="869.5" cy="333.9" r="3.9"/></g>
<polyline points="158.5,349.9 168.4,350.6 178.2,351.8 188.1,353.3 198.0,354.2 207.9,355.3 217.8,355.7 227.6,355.5 237.5,354.8 247.4,353.9 257.2,352.5 267.1,349.6 277.0,345.8 286.9,341.2 296.8,334.4 306.6,324.3 310.6,319.7 314.5,310.1 318.5,302.4 322.4,290.6 326.4,281.4 328.4,277.2 330.3,273.1 332.3,268.8 334.3,264.1 336.2,260.0 338.2,257.1 340.2,255.4 342.2,255.1 344.1,256.0 346.1,257.6 350.1,262.6 354.0,268.7 358.0,276.6 361.9,282.2 365.9,288.3 375.8,300.5 385.6,311.0 395.5,318.5 405.4,324.6 415.2,330.5 425.1,335.2 435.0,338.0 444.9,339.9 454.8,341.5 464.6,343.0 474.5,343.8 484.4,345.0 494.2,346.3 504.1,347.3 514.0,348.9 523.9,350.2 533.8,351.6 543.6,353.2 553.5,355.1 563.4,356.7 573.2,356.7 583.1,356.7 593.0,356.7 602.9,355.5 612.8,354.1 622.6,351.2 632.5,347.3 642.4,341.9 652.2,335.5 662.1,324.3 666.1,316.8 670.0,309.0 674.0,298.3 677.9,287.6 681.9,276.8 683.9,271.0 685.8,265.1 687.8,260.5 689.8,257.3 691.8,255.0 693.7,253.6 695.7,253.2 697.7,253.6 699.6,254.4 701.6,255.7 705.6,261.2 709.5,270.0 713.5,277.8 717.4,285.0 721.4,290.8 731.2,306.3 741.1,317.2 751.0,325.4 760.9,331.5 770.8,335.9 780.6,340.0 790.5,342.9 800.4,344.3 810.2,345.6 820.1,346.8 830.0,347.1 839.9,347.4 849.8,347.9 859.6,348.4 869.5,348.7" fill="none" stroke="#9E480E" stroke-width="1.6" stroke-linejoin="round"/>
<g fill="#9E480E"><circle cx="158.5" cy="349.9" r="3.9"/><circle cx="168.4" cy="350.6" r="3.9"/><circle cx="178.2" cy="351.8" r="3.9"/><circle cx="188.1" cy="353.3" r="3.9"/><circle cx="198.0" cy="354.2" r="3.9"/><circle cx="207.9" cy="355.3" r="3.9"/><circle cx="217.8" cy="355.7" r="3.9"/><circle cx="227.6" cy="355.5" r="3.9"/><circle cx="237.5" cy="354.8" r="3.9"/><circle cx="247.4" cy="353.9" r="3.9"/><circle cx="257.2" cy="352.5" r="3.9"/><circle cx="267.1" cy="349.6" r="3.9"/><circle cx="277.0" cy="345.8" r="3.9"/><circle cx="286.9" cy="341.2" r="3.9"/><circle cx="296.8" cy="334.4" r="3.9"/><circle cx="306.6" cy="324.3" r="3.9"/><circle cx="310.6" cy="319.7" r="3.9"/><circle cx="314.5" cy="310.1" r="3.9"/><circle cx="318.5" cy="302.4" r="3.9"/><circle cx="322.4" cy="290.6" r="3.9"/><circle cx="326.4" cy="281.4" r="3.9"/><circle cx="328.4" cy="277.2" r="3.9"/><circle cx="330.3" cy="273.1" r="3.9"/><circle cx="332.3" cy="268.8" r="3.9"/><circle cx="334.3" cy="264.1" r="3.9"/><circle cx="336.2" cy="260.0" r="3.9"/><circle cx="338.2" cy="257.1" r="3.9"/><circle cx="340.2" cy="255.4" r="3.9"/><circle cx="342.2" cy="255.1" r="3.9"/><circle cx="344.1" cy="256.0" r="3.9"/><circle cx="346.1" cy="257.6" r="3.9"/><circle cx="350.1" cy="262.6" r="3.9"/><circle cx="354.0" cy="268.7" r="3.9"/><circle cx="358.0" cy="276.6" r="3.9"/><circle cx="361.9" cy="282.2" r="3.9"/><circle cx="365.9" cy="288.3" r="3.9"/><circle cx="375.8" cy="300.5" r="3.9"/><circle cx="385.6" cy="311.0" r="3.9"/><circle cx="395.5" cy="318.5" r="3.9"/><circle cx="405.4" cy="324.6" r="3.9"/><circle cx="415.2" cy="330.5" r="3.9"/><circle cx="425.1" cy="335.2" r="3.9"/><circle cx="435.0" cy="338.0" r="3.9"/><circle cx="444.9" cy="339.9" r="3.9"/><circle cx="454.8" cy="341.5" r="3.9"/><circle cx="464.6" cy="343.0" r="3.9"/><circle cx="474.5" cy="343.8" r="3.9"/><circle cx="484.4" cy="345.0" r="3.9"/><circle cx="494.2" cy="346.3" r="3.9"/><circle cx="504.1" cy="347.3" r="3.9"/><circle cx="514.0" cy="348.9" r="3.9"/><circle cx="523.9" cy="350.2" r="3.9"/><circle cx="533.8" cy="351.6" r="3.9"/><circle cx="543.6" cy="353.2" r="3.9"/><circle cx="553.5" cy="355.1" r="3.9"/><circle cx="563.4" cy="356.7" r="3.9"/><circle cx="573.2" cy="356.7" r="3.9"/><circle cx="583.1" cy="356.7" r="3.9"/><circle cx="593.0" cy="356.7" r="3.9"/><circle cx="602.9" cy="355.5" r="3.9"/><circle cx="612.8" cy="354.1" r="3.9"/><circle cx="622.6" cy="351.2" r="3.9"/><circle cx="632.5" cy="347.3" r="3.9"/><circle cx="642.4" cy="341.9" r="3.9"/><circle cx="652.2" cy="335.5" r="3.9"/><circle cx="662.1" cy="324.3" r="3.9"/><circle cx="666.1" cy="316.8" r="3.9"/><circle cx="670.0" cy="309.0" r="3.9"/><circle cx="674.0" cy="298.3" r="3.9"/><circle cx="677.9" cy="287.6" r="3.9"/><circle cx="681.9" cy="276.8" r="3.9"/><circle cx="683.9" cy="271.0" r="3.9"/><circle cx="685.8" cy="265.1" r="3.9"/><circle cx="687.8" cy="260.5" r="3.9"/><circle cx="689.8" cy="257.3" r="3.9"/><circle cx="691.8" cy="255.0" r="3.9"/><circle cx="693.7" cy="253.6" r="3.9"/><circle cx="695.7" cy="253.2" r="3.9"/><circle cx="697.7" cy="253.6" r="3.9"/><circle cx="699.6" cy="254.4" r="3.9"/><circle cx="701.6" cy="255.7" r="3.9"/><circle cx="705.6" cy="261.2" r="3.9"/><circle cx="709.5" cy="270.0" r="3.9"/><circle cx="713.5" cy="277.8" r="3.9"/><circle cx="717.4" cy="285.0" r="3.9"/><circle cx="721.4" cy="290.8" r="3.9"/><circle cx="731.2" cy="306.3" r="3.9"/><circle cx="741.1" cy="317.2" r="3.9"/><circle cx="751.0" cy="325.4" r="3.9"/><circle cx="760.9" cy="331.5" r="3.9"/><circle cx="770.8" cy="335.9" r="3.9"/><circle cx="780.6" cy="340.0" r="3.9"/><circle cx="790.5" cy="342.9" r="3.9"/><circle cx="800.4" cy="344.3" r="3.9"/><circle cx="810.2" cy="345.6" r="3.9"/><circle cx="820.1" cy="346.8" r="3.9"/><circle cx="830.0" cy="347.1" r="3.9"/><circle cx="839.9" cy="347.4" r="3.9"/><circle cx="849.8" cy="347.9" r="3.9"/><circle cx="859.6" cy="348.4" r="3.9"/><circle cx="869.5" cy="348.7" r="3.9"/></g>
<polyline points="158.5,389.8 168.4,390.7 178.2,392.3 188.1,393.7 198.0,394.6 207.9,395.0 217.8,395.6 227.6,395.6 237.5,395.6 247.4,395.0 257.2,393.7 267.1,391.7 277.0,389.5 286.9,387.1 296.8,383.0 306.6,375.8 310.6,372.8 314.5,369.4 318.5,365.3 322.4,360.7 326.4,353.1 328.4,347.3 330.3,341.0 332.3,335.1 334.3,329.3 336.2,324.5 338.2,320.8 340.2,318.8 342.2,319.2 344.1,321.3 346.1,324.4 350.1,331.5 354.0,340.1 358.0,346.7 361.9,352.4 365.9,355.7 375.8,364.8 385.6,371.3 395.5,376.1 405.4,379.9 415.2,383.2 425.1,386.3 435.0,387.9 444.9,388.3 454.8,388.7 464.6,388.7 474.5,388.3 484.4,388.3 494.2,388.3 504.1,388.3 514.0,389.9 523.9,390.2 533.8,392.2 543.6,393.8 553.5,395.1 563.4,396.1 573.2,395.7 583.1,396.1 593.0,395.7 602.9,395.1 612.8,393.8 622.6,391.8 632.5,390.2 642.4,387.3 652.2,383.4 662.1,378.5 666.1,375.5 670.0,371.8 674.0,367.7 677.9,362.0 681.9,353.2 683.9,348.4 685.8,343.4 687.8,337.6 689.8,331.7 691.8,327.3 693.7,323.9 695.7,320.9 697.7,319.7 699.6,321.9 701.6,324.9 705.6,331.7 709.5,338.8 713.5,345.3 717.4,351.1 721.4,356.1 731.2,367.0 741.1,373.7 751.0,378.6 760.9,382.8 770.8,385.4 780.6,387.3 790.5,388.8 800.4,389.7 810.2,390.4 820.1,389.7 830.0,389.7 839.9,389.3 849.8,388.9 859.6,388.9 869.5,389.3" fill="none" stroke="#636363" stroke-width="1.6" stroke-linejoin="round"/>
<g fill="#636363"><circle cx="158.5" cy="389.8" r="3.9"/><circle cx="168.4" cy="390.7" r="3.9"/><circle cx="178.2" cy="392.3" r="3.9"/><circle cx="188.1" cy="393.7" r="3.9"/><circle cx="198.0" cy="394.6" r="3.9"/><circle cx="207.9" cy="395.0" r="3.9"/><circle cx="217.8" cy="395.6" r="3.9"/><circle cx="227.6" cy="395.6" r="3.9"/><circle cx="237.5" cy="395.6" r="3.9"/><circle cx="247.4" cy="395.0" r="3.9"/><circle cx="257.2" cy="393.7" r="3.9"/><circle cx="267.1" cy="391.7" r="3.9"/><circle cx="277.0" cy="389.5" r="3.9"/><circle cx="286.9" cy="387.1" r="3.9"/><circle cx="296.8" cy="383.0" r="3.9"/><circle cx="306.6" cy="375.8" r="3.9"/><circle cx="310.6" cy="372.8" r="3.9"/><circle cx="314.5" cy="369.4" r="3.9"/><circle cx="318.5" cy="365.3" r="3.9"/><circle cx="322.4" cy="360.7" r="3.9"/><circle cx="326.4" cy="353.1" r="3.9"/><circle cx="328.4" cy="347.3" r="3.9"/><circle cx="330.3" cy="341.0" r="3.9"/><circle cx="332.3" cy="335.1" r="3.9"/><circle cx="334.3" cy="329.3" r="3.9"/><circle cx="336.2" cy="324.5" r="3.9"/><circle cx="338.2" cy="320.8" r="3.9"/><circle cx="340.2" cy="318.8" r="3.9"/><circle cx="342.2" cy="319.2" r="3.9"/><circle cx="344.1" cy="321.3" r="3.9"/><circle cx="346.1" cy="324.4" r="3.9"/><circle cx="350.1" cy="331.5" r="3.9"/><circle cx="354.0" cy="340.1" r="3.9"/><circle cx="358.0" cy="346.7" r="3.9"/><circle cx="361.9" cy="352.4" r="3.9"/><circle cx="365.9" cy="355.7" r="3.9"/><circle cx="375.8" cy="364.8" r="3.9"/><circle cx="385.6" cy="371.3" r="3.9"/><circle cx="395.5" cy="376.1" r="3.9"/><circle cx="405.4" cy="379.9" r="3.9"/><circle cx="415.2" cy="383.2" r="3.9"/><circle cx="425.1" cy="386.3" r="3.9"/><circle cx="435.0" cy="387.9" r="3.9"/><circle cx="444.9" cy="388.3" r="3.9"/><circle cx="454.8" cy="388.7" r="3.9"/><circle cx="464.6" cy="388.7" r="3.9"/><circle cx="474.5" cy="388.3" r="3.9"/><circle cx="484.4" cy="388.3" r="3.9"/><circle cx="494.2" cy="388.3" r="3.9"/><circle cx="504.1" cy="388.3" r="3.9"/><circle cx="514.0" cy="389.9" r="3.9"/><circle cx="523.9" cy="390.2" r="3.9"/><circle cx="533.8" cy="392.2" r="3.9"/><circle cx="543.6" cy="393.8" r="3.9"/><circle cx="553.5" cy="395.1" r="3.9"/><circle cx="563.4" cy="396.1" r="3.9"/><circle cx="573.2" cy="395.7" r="3.9"/><circle cx="583.1" cy="396.1" r="3.9"/><circle cx="593.0" cy="395.7" r="3.9"/><circle cx="602.9" cy="395.1" r="3.9"/><circle cx="612.8" cy="393.8" r="3.9"/><circle cx="622.6" cy="391.8" r="3.9"/><circle cx="632.5" cy="390.2" r="3.9"/><circle cx="642.4" cy="387.3" r="3.9"/><circle cx="652.2" cy="383.4" r="3.9"/><circle cx="662.1" cy="378.5" r="3.9"/><circle cx="666.1" cy="375.5" r="3.9"/><circle cx="670.0" cy="371.8" r="3.9"/><circle cx="674.0" cy="367.7" r="3.9"/><circle cx="677.9" cy="362.0" r="3.9"/><circle cx="681.9" cy="353.2" r="3.9"/><circle cx="683.9" cy="348.4" r="3.9"/><circle cx="685.8" cy="343.4" r="3.9"/><circle cx="687.8" cy="337.6" r="3.9"/><circle cx="689.8" cy="331.7" r="3.9"/><circle cx="691.8" cy="327.3" r="3.9"/><circle cx="693.7" cy="323.9" r="3.9"/><circle cx="695.7" cy="320.9" r="3.9"/><circle cx="697.7" cy="319.7" r="3.9"/><circle cx="699.6" cy="321.9" r="3.9"/><circle cx="701.6" cy="324.9" r="3.9"/><circle cx="705.6" cy="331.7" r="3.9"/><circle cx="709.5" cy="338.8" r="3.9"/><circle cx="713.5" cy="345.3" r="3.9"/><circle cx="717.4" cy="351.1" r="3.9"/><circle cx="721.4" cy="356.1" r="3.9"/><circle cx="731.2" cy="367.0" r="3.9"/><circle cx="741.1" cy="373.7" r="3.9"/><circle cx="751.0" cy="378.6" r="3.9"/><circle cx="760.9" cy="382.8" r="3.9"/><circle cx="770.8" cy="385.4" r="3.9"/><circle cx="780.6" cy="387.3" r="3.9"/><circle cx="790.5" cy="388.8" r="3.9"/><circle cx="800.4" cy="389.7" r="3.9"/><circle cx="810.2" cy="390.4" r="3.9"/><circle cx="820.1" cy="389.7" r="3.9"/><circle cx="830.0" cy="389.7" r="3.9"/><circle cx="839.9" cy="389.3" r="3.9"/><circle cx="849.8" cy="388.9" r="3.9"/><circle cx="859.6" cy="388.9" r="3.9"/><circle cx="869.5" cy="389.3" r="3.9"/></g>
<polyline points="158.5,408.3 168.4,409.3 178.2,410.2 188.1,411.2 198.0,411.8 207.9,412.2 217.8,412.6 227.6,412.6 237.5,412.6 247.4,411.8 257.2,411.2 267.1,409.3 277.0,407.1 286.9,405.1 296.8,402.6 306.6,398.0 310.6,395.4 314.5,392.9 318.5,390.6 322.4,387.1 326.4,380.0 328.4,375.5 330.3,370.7 332.3,365.9 334.3,361.8 336.2,358.1 338.2,354.2 340.2,350.7 342.2,349.0 344.1,350.6 346.1,355.0 350.1,364.2 354.0,371.8 358.0,377.8 361.9,382.1 365.9,384.9 375.8,389.8 385.6,394.6 395.5,398.0 405.4,401.7 415.2,404.3 425.1,406.2 435.0,407.8 444.9,408.8 454.8,408.8 464.6,408.8 474.5,408.8 484.4,408.2 494.2,408.2 504.1,408.2 514.0,408.8 523.9,409.4 533.8,410.1 543.6,411.3 553.5,412.1 563.4,412.7 573.2,413.3 583.1,413.3 593.0,412.1 602.9,411.2 612.8,410.1 622.6,408.8 632.5,407.4 642.4,405.5 652.2,402.9 662.1,398.0 666.1,395.7 670.0,393.0 674.0,389.7 677.9,385.6 681.9,380.1 683.9,376.6 685.8,372.8 687.8,368.8 689.8,364.7 691.8,360.2 693.7,355.8 695.7,351.6 697.7,350.0 699.6,352.2 701.6,356.1 705.6,363.9 709.5,370.6 713.5,376.8 717.4,382.4 721.4,385.0 731.2,391.0 741.1,396.2 751.0,400.3 760.9,402.7 770.8,405.6 780.6,407.1 790.5,407.9 800.4,408.4 810.2,409.2 820.1,409.2 830.0,408.7 839.9,408.4 849.8,408.1 859.6,408.1 869.5,408.4" fill="none" stroke="#FF9900" stroke-width="1.6" stroke-linejoin="round"/>
<g fill="#FF9900"><circle cx="158.5" cy="408.3" r="3.9"/><circle cx="168.4" cy="409.3" r="3.9"/><circle cx="178.2" cy="410.2" r="3.9"/><circle cx="188.1" cy="411.2" r="3.9"/><circle cx="198.0" cy="411.8" r="3.9"/><circle cx="207.9" cy="412.2" r="3.9"/><circle cx="217.8" cy="412.6" r="3.9"/><circle cx="227.6" cy="412.6" r="3.9"/><circle cx="237.5" cy="412.6" r="3.9"/><circle cx="247.4" cy="411.8" r="3.9"/><circle cx="257.2" cy="411.2" r="3.9"/><circle cx="267.1" cy="409.3" r="3.9"/><circle cx="277.0" cy="407.1" r="3.9"/><circle cx="286.9" cy="405.1" r="3.9"/><circle cx="296.8" cy="402.6" r="3.9"/><circle cx="306.6" cy="398.0" r="3.9"/><circle cx="310.6" cy="395.4" r="3.9"/><circle cx="314.5" cy="392.9" r="3.9"/><circle cx="318.5" cy="390.6" r="3.9"/><circle cx="322.4" cy="387.1" r="3.9"/><circle cx="326.4" cy="380.0" r="3.9"/><circle cx="328.4" cy="375.5" r="3.9"/><circle cx="330.3" cy="370.7" r="3.9"/><circle cx="332.3" cy="365.9" r="3.9"/><circle cx="334.3" cy="361.8" r="3.9"/><circle cx="336.2" cy="358.1" r="3.9"/><circle cx="338.2" cy="354.2" r="3.9"/><circle cx="340.2" cy="350.7" r="3.9"/><circle cx="342.2" cy="349.0" r="3.9"/><circle cx="344.1" cy="350.6" r="3.9"/><circle cx="346.1" cy="355.0" r="3.9"/><circle cx="350.1" cy="364.2" r="3.9"/><circle cx="354.0" cy="371.8" r="3.9"/><circle cx="358.0" cy="377.8" r="3.9"/><circle cx="361.9" cy="382.1" r="3.9"/><circle cx="365.9" cy="384.9" r="3.9"/><circle cx="375.8" cy="389.8" r="3.9"/><circle cx="385.6" cy="394.6" r="3.9"/><circle cx="395.5" cy="398.0" r="3.9"/><circle cx="405.4" cy="401.7" r="3.9"/><circle cx="415.2" cy="404.3" r="3.9"/><circle cx="425.1" cy="406.2" r="3.9"/><circle cx="435.0" cy="407.8" r="3.9"/><circle cx="444.9" cy="408.8" r="3.9"/><circle cx="454.8" cy="408.8" r="3.9"/><circle cx="464.6" cy="408.8" r="3.9"/><circle cx="474.5" cy="408.8" r="3.9"/><circle cx="484.4" cy="408.2" r="3.9"/><circle cx="494.2" cy="408.2" r="3.9"/><circle cx="504.1" cy="408.2" r="3.9"/><circle cx="514.0" cy="408.8" r="3.9"/><circle cx="523.9" cy="409.4" r="3.9"/><circle cx="533.8" cy="410.1" r="3.9"/><circle cx="543.6" cy="411.3" r="3.9"/><circle cx="553.5" cy="412.1" r="3.9"/><circle cx="563.4" cy="412.7" r="3.9"/><circle cx="573.2" cy="413.3" r="3.9"/><circle cx="583.1" cy="413.3" r="3.9"/><circle cx="593.0" cy="412.1" r="3.9"/><circle cx="602.9" cy="411.2" r="3.9"/><circle cx="612.8" cy="410.1" r="3.9"/><circle cx="622.6" cy="408.8" r="3.9"/><circle cx="632.5" cy="407.4" r="3.9"/><circle cx="642.4" cy="405.5" r="3.9"/><circle cx="652.2" cy="402.9" r="3.9"/><circle cx="662.1" cy="398.0" r="3.9"/><circle cx="666.1" cy="395.7" r="3.9"/><circle cx="670.0" cy="393.0" r="3.9"/><circle cx="674.0" cy="389.7" r="3.9"/><circle cx="677.9" cy="385.6" r="3.9"/><circle cx="681.9" cy="380.1" r="3.9"/><circle cx="683.9" cy="376.6" r="3.9"/><circle cx="685.8" cy="372.8" r="3.9"/><circle cx="687.8" cy="368.8" r="3.9"/><circle cx="689.8" cy="364.7" r="3.9"/><circle cx="691.8" cy="360.2" r="3.9"/><circle cx="693.7" cy="355.8" r="3.9"/><circle cx="695.7" cy="351.6" r="3.9"/><circle cx="697.7" cy="350.0" r="3.9"/><circle cx="699.6" cy="352.2" r="3.9"/><circle cx="701.6" cy="356.1" r="3.9"/><circle cx="705.6" cy="363.9" r="3.9"/><circle cx="709.5" cy="370.6" r="3.9"/><circle cx="713.5" cy="376.8" r="3.9"/><circle cx="717.4" cy="382.4" r="3.9"/><circle cx="721.4" cy="385.0" r="3.9"/><circle cx="731.2" cy="391.0" r="3.9"/><circle cx="741.1" cy="396.2" r="3.9"/><circle cx="751.0" cy="400.3" r="3.9"/><circle cx="760.9" cy="402.7" r="3.9"/><circle cx="770.8" cy="405.6" r="3.9"/><circle cx="780.6" cy="407.1" r="3.9"/><circle cx="790.5" cy="407.9" r="3.9"/><circle cx="800.4" cy="408.4" r="3.9"/><circle cx="810.2" cy="409.2" r="3.9"/><circle cx="820.1" cy="409.2" r="3.9"/><circle cx="830.0" cy="408.7" r="3.9"/><circle cx="839.9" cy="408.4" r="3.9"/><circle cx="849.8" cy="408.1" r="3.9"/><circle cx="859.6" cy="408.1" r="3.9"/><circle cx="869.5" cy="408.4" r="3.9"/></g>
<polyline points="158.5,419.6 168.4,420.0 178.2,421.0 188.1,421.6 198.0,422.0 207.9,422.0 217.8,422.3 227.6,422.3 237.5,422.0 247.4,421.6 257.2,420.0 267.1,419.0 277.0,416.8 286.9,415.1 296.8,413.1 306.6,409.6 310.6,408.1 314.5,406.2 318.5,403.6 322.4,399.7 326.4,393.9 328.4,390.2 330.3,386.1 332.3,381.4 334.3,376.9 336.2,372.9 338.2,369.4 340.2,367.6 342.2,367.6 344.1,369.3 346.1,372.8 350.1,383.7 354.0,390.3 358.0,394.5 361.9,397.6 365.9,400.1 375.8,404.9 385.6,408.3 395.5,411.0 405.4,414.1 415.2,415.9 425.1,417.6 435.0,419.1 444.9,419.5 454.8,419.9 464.6,420.5 474.5,420.5 484.4,419.5 494.2,419.5 504.1,419.5 514.0,419.9 523.9,420.5 533.8,421.1 543.6,421.5 553.5,421.9 563.4,421.9 573.2,421.9 583.1,421.5 593.0,421.1 602.9,420.8 612.8,420.5 622.6,419.1 632.5,417.6 642.4,415.6 652.2,413.3 662.1,409.8 666.1,408.2 670.0,406.3 674.0,403.1 677.9,398.9 681.9,393.7 683.9,390.7 685.8,387.5 687.8,384.1 689.8,380.6 691.8,376.6 693.7,372.7 695.7,369.1 697.7,367.6 699.6,370.4 701.6,375.1 705.6,384.2 709.5,390.2 713.5,395.2 717.4,398.6 721.4,401.0 731.2,405.2 741.1,408.4 751.0,412.0 760.9,414.0 770.8,416.1 780.6,417.5 790.5,418.8 800.4,419.3 810.2,420.1 820.1,420.1 830.0,420.1 839.9,419.6 849.8,419.3 859.6,419.3 869.5,419.3" fill="none" stroke="#FF00FF" stroke-width="1.6" stroke-linejoin="round"/>
<g fill="#FF00FF"><circle cx="158.5" cy="419.6" r="3.9"/><circle cx="168.4" cy="420.0" r="3.9"/><circle cx="178.2" cy="421.0" r="3.9"/><circle cx="188.1" cy="421.6" r="3.9"/><circle cx="198.0" cy="422.0" r="3.9"/><circle cx="207.9" cy="422.0" r="3.9"/><circle cx="217.8" cy="422.3" r="3.9"/><circle cx="227.6" cy="422.3" r="3.9"/><circle cx="237.5" cy="422.0" r="3.9"/><circle cx="247.4" cy="421.6" r="3.9"/><circle cx="257.2" cy="420.0" r="3.9"/><circle cx="267.1" cy="419.0" r="3.9"/><circle cx="277.0" cy="416.8" r="3.9"/><circle cx="286.9" cy="415.1" r="3.9"/><circle cx="296.8" cy="413.1" r="3.9"/><circle cx="306.6" cy="409.6" r="3.9"/><circle cx="310.6" cy="408.1" r="3.9"/><circle cx="314.5" cy="406.2" r="3.9"/><circle cx="318.5" cy="403.6" r="3.9"/><circle cx="322.4" cy="399.7" r="3.9"/><circle cx="326.4" cy="393.9" r="3.9"/><circle cx="328.4" cy="390.2" r="3.9"/><circle cx="330.3" cy="386.1" r="3.9"/><circle cx="332.3" cy="381.4" r="3.9"/><circle cx="334.3" cy="376.9" r="3.9"/><circle cx="336.2" cy="372.9" r="3.9"/><circle cx="338.2" cy="369.4" r="3.9"/><circle cx="340.2" cy="367.6" r="3.9"/><circle cx="342.2" cy="367.6" r="3.9"/><circle cx="344.1" cy="369.3" r="3.9"/><circle cx="346.1" cy="372.8" r="3.9"/><circle cx="350.1" cy="383.7" r="3.9"/><circle cx="354.0" cy="390.3" r="3.9"/><circle cx="358.0" cy="394.5" r="3.9"/><circle cx="361.9" cy="397.6" r="3.9"/><circle cx="365.9" cy="400.1" r="3.9"/><circle cx="375.8" cy="404.9" r="3.9"/><circle cx="385.6" cy="408.3" r="3.9"/><circle cx="395.5" cy="411.0" r="3.9"/><circle cx="405.4" cy="414.1" r="3.9"/><circle cx="415.2" cy="415.9" r="3.9"/><circle cx="425.1" cy="417.6" r="3.9"/><circle cx="435.0" cy="419.1" r="3.9"/><circle cx="444.9" cy="419.5" r="3.9"/><circle cx="454.8" cy="419.9" r="3.9"/><circle cx="464.6" cy="420.5" r="3.9"/><circle cx="474.5" cy="420.5" r="3.9"/><circle cx="484.4" cy="419.5" r="3.9"/><circle cx="494.2" cy="419.5" r="3.9"/><circle cx="504.1" cy="419.5" r="3.9"/><circle cx="514.0" cy="419.9" r="3.9"/><circle cx="523.9" cy="420.5" r="3.9"/><circle cx="533.8" cy="421.1" r="3.9"/><circle cx="543.6" cy="421.5" r="3.9"/><circle cx="553.5" cy="421.9" r="3.9"/><circle cx="563.4" cy="421.9" r="3.9"/><circle cx="573.2" cy="421.9" r="3.9"/><circle cx="583.1" cy="421.5" r="3.9"/><circle cx="593.0" cy="421.1" r="3.9"/><circle cx="602.9" cy="420.8" r="3.9"/><circle cx="612.8" cy="420.5" r="3.9"/><circle cx="622.6" cy="419.1" r="3.9"/><circle cx="632.5" cy="417.6" r="3.9"/><circle cx="642.4" cy="415.6" r="3.9"/><circle cx="652.2" cy="413.3" r="3.9"/><circle cx="662.1" cy="409.8" r="3.9"/><circle cx="666.1" cy="408.2" r="3.9"/><circle cx="670.0" cy="406.3" r="3.9"/><circle cx="674.0" cy="403.1" r="3.9"/><circle cx="677.9" cy="398.9" r="3.9"/><circle cx="681.9" cy="393.7" r="3.9"/><circle cx="683.9" cy="390.7" r="3.9"/><circle cx="685.8" cy="387.5" r="3.9"/><circle cx="687.8" cy="384.1" r="3.9"/><circle cx="689.8" cy="380.6" r="3.9"/><circle cx="691.8" cy="376.6" r="3.9"/><circle cx="693.7" cy="372.7" r="3.9"/><circle cx="695.7" cy="369.1" r="3.9"/><circle cx="697.7" cy="367.6" r="3.9"/><circle cx="699.6" cy="370.4" r="3.9"/><circle cx="701.6" cy="375.1" r="3.9"/><circle cx="705.6" cy="384.2" r="3.9"/><circle cx="709.5" cy="390.2" r="3.9"/><circle cx="713.5" cy="395.2" r="3.9"/><circle cx="717.4" cy="398.6" r="3.9"/><circle cx="721.4" cy="401.0" r="3.9"/><circle cx="731.2" cy="405.2" r="3.9"/><circle cx="741.1" cy="408.4" r="3.9"/><circle cx="751.0" cy="412.0" r="3.9"/><circle cx="760.9" cy="414.0" r="3.9"/><circle cx="770.8" cy="416.1" r="3.9"/><circle cx="780.6" cy="417.5" r="3.9"/><circle cx="790.5" cy="418.8" r="3.9"/><circle cx="800.4" cy="419.3" r="3.9"/><circle cx="810.2" cy="420.1" r="3.9"/><circle cx="820.1" cy="420.1" r="3.9"/><circle cx="830.0" cy="420.1" r="3.9"/><circle cx="839.9" cy="419.6" r="3.9"/><circle cx="849.8" cy="419.3" r="3.9"/><circle cx="859.6" cy="419.3" r="3.9"/><circle cx="869.5" cy="419.3" r="3.9"/></g>
<g font-size="33.5">
<text x="125" y="455.7" text-anchor="end">0</text>
<text x="125" y="407.8" text-anchor="end">50</text>
<text x="125" y="359.9" text-anchor="end">100</text>
<text x="125" y="312.0" text-anchor="end">150</text>
<text x="125" y="264.1" text-anchor="end">200</text>
<text x="125" y="216.3" text-anchor="end">250</text>
<text x="125" y="168.4" text-anchor="end">300</text>
<text x="125" y="120.5" text-anchor="end">350</text>
<text x="125" y="72.6" text-anchor="end">400</text>
<text x="125" y="24.7" text-anchor="end">450</text>
<text x="158.5" y="503.2" text-anchor="middle">0</text>
<text x="247.4" y="503.2" text-anchor="middle">45</text>
<text x="336.2" y="503.2" text-anchor="middle">90</text>
<text x="425.1" y="503.2" text-anchor="middle">135</text>
<text x="514.0" y="503.2" text-anchor="middle">180</text>
<text x="602.9" y="503.2" text-anchor="middle">225</text>
<text x="691.8" y="503.2" text-anchor="middle">270</text>
<text x="780.6" y="503.2" text-anchor="middle">315</text>
<text x="869.5" y="503.2" text-anchor="middle">360</text>
</g>
<text x="529" y="558.7" text-anchor="middle" font-size="33">Field angle (deg)</text>
<g transform="translate(26.5,232) rotate(-90)">
<text x="0" y="0" text-anchor="middle" font-size="33.5">Critical current<tspan dx="17">I</tspan><tspan font-size="22" dy="9">c</tspan><tspan dy="-9"> (A)</tspan></text>
</g>
<g font-size="28.5">
<line x1="900.5" y1="24.3" x2="931" y2="24.3" stroke="#4472C4" stroke-width="1.8"/>
<circle cx="916" cy="24.3" r="4" fill="#4472C4"/>
<text transform="translate(935.2,33.3) scale(0.93,1)">0 T</text>
<line x1="900.5" y1="65.1" x2="931" y2="65.1" stroke="#ED7D31" stroke-width="1.8"/>
<circle cx="916" cy="65.1" r="4" fill="#ED7D31"/>
<text transform="translate(935.2,74.1) scale(0.93,1)">0.025 T</text>
<line x1="900.5" y1="105.9" x2="931" y2="105.9" stroke="#FF0000" stroke-width="1.8"/>
<circle cx="916" cy="105.9" r="4" fill="#FF0000"/>
<text transform="translate(935.2,114.9) scale(0.93,1)">0.05 T</text>
<line x1="900.5" y1="146.7" x2="931" y2="146.7" stroke="#000000" stroke-width="1.8"/>
<circle cx="916" cy="146.7" r="4" fill="#000000"/>
<text transform="translate(935.2,155.7) scale(0.93,1)">0.1 T</text>
<line x1="900.5" y1="187.5" x2="931" y2="187.5" stroke="#5B9BD5" stroke-width="1.8"/>
<circle cx="916" cy="187.5" r="4" fill="#5B9BD5"/>
<text transform="translate(935.2,196.5) scale(0.93,1)">0.2 T</text>
<line x1="900.5" y1="228.2" x2="931" y2="228.2" stroke="#70AD47" stroke-width="1.8"/>
<circle cx="916" cy="228.2" r="4" fill="#70AD47"/>
<text transform="translate(935.2,237.2) scale(0.93,1)">0.3 T</text>
<line x1="900.5" y1="269.0" x2="931" y2="269.0" stroke="#264478" stroke-width="1.8"/>
<circle cx="916" cy="269.0" r="4" fill="#264478"/>
<text transform="translate(935.2,278.0) scale(0.93,1)">0.4 T</text>
<line x1="900.5" y1="309.8" x2="931" y2="309.8" stroke="#9E480E" stroke-width="1.8"/>
<circle cx="916" cy="309.8" r="4" fill="#9E480E"/>
<text transform="translate(935.2,318.8) scale(0.93,1)">0.5 T</text>
<line x1="900.5" y1="350.6" x2="931" y2="350.6" stroke="#636363" stroke-width="1.8"/>
<circle cx="916" cy="350.6" r="4" fill="#636363"/>
<text transform="translate(935.2,359.6) scale(0.93,1)">1 T</text>
<line x1="900.5" y1="391.4" x2="931" y2="391.4" stroke="#FF9900" stroke-width="1.8"/>
<circle cx="916" cy="391.4" r="4" fill="#FF9900"/>
<text transform="translate(935.2,400.4) scale(0.93,1)">1.5 T</text>
<line x1="900.5" y1="432.2" x2="931" y2="432.2" stroke="#FF00FF" stroke-width="1.8"/>
<circle cx="916" cy="432.2" r="4" fill="#FF00FF"/>
<text transform="translate(935.2,441.2) scale(0.93,1)">2 T</text>
</g>
</svg>
</body></html>
